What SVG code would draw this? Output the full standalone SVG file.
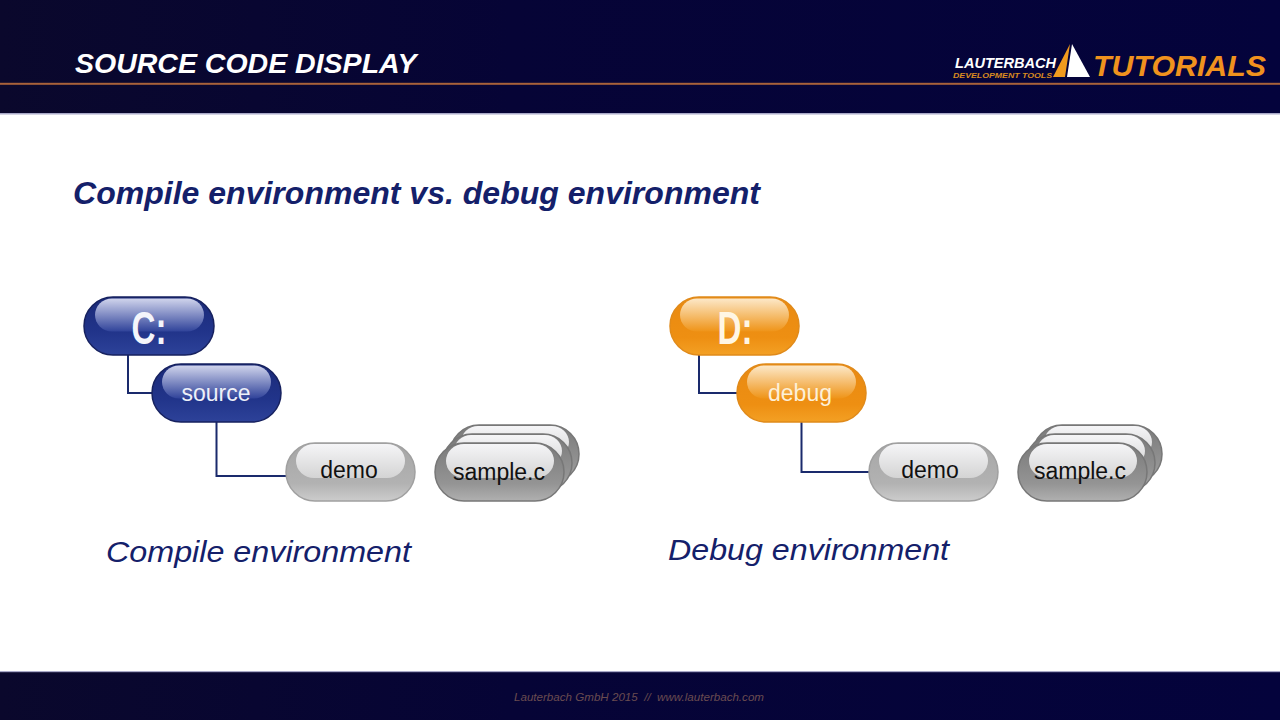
<svg xmlns="http://www.w3.org/2000/svg" width="1280" height="720" viewBox="0 0 1280 720">
<style>
text{font-family:"Liberation Sans",Arial,sans-serif}
.conn{fill:none;stroke:#1a2a6c;stroke-width:2}
.lbl{font-size:23px;text-anchor:middle}
.big{font-size:46px;font-weight:700;text-anchor:middle}
.env{font-size:30px;font-style:italic;fill:#14206a}
.edge{stroke-width:1.5}
</style>
<defs>
<linearGradient id="bar" x1="0" y1="0" x2="1" y2="0"><stop offset="0" stop-color="#0a082c"/><stop offset=".4" stop-color="#060436"/><stop offset="1" stop-color="#04033c"/></linearGradient>
<linearGradient id="blue" x1="0" y1="0" x2="0" y2="1"><stop offset="0" stop-color="#1b2a78"/><stop offset=".6" stop-color="#21348a"/><stop offset="1" stop-color="#2d4299"/></linearGradient>
<linearGradient id="orange" x1="0" y1="0" x2="0" y2="1"><stop offset="0" stop-color="#e98a12"/><stop offset=".7" stop-color="#ee8f12"/><stop offset="1" stop-color="#f3a024"/></linearGradient>
<linearGradient id="silver" x1="0" y1="0" x2="0" y2="1"><stop offset="0" stop-color="#a6a6a6"/><stop offset=".7" stop-color="#b2b2b2"/><stop offset="1" stop-color="#cccccc"/></linearGradient>
<linearGradient id="dark" x1="0" y1="0" x2="0" y2="1"><stop offset="0" stop-color="#7a7a7a"/><stop offset=".7" stop-color="#949494"/><stop offset="1" stop-color="#b0b0b0"/></linearGradient>
<linearGradient id="glB" x1="0" y1="0" x2="0" y2="1"><stop offset="0" stop-color="#d0d4ec"/><stop offset="1" stop-color="#30439a"/></linearGradient>
<linearGradient id="glO" x1="0" y1="0" x2="0" y2="1"><stop offset="0" stop-color="#fce8c8"/><stop offset="1" stop-color="#ef9418"/></linearGradient>
<linearGradient id="glS" x1="0" y1="0" x2="0" y2="1"><stop offset="0" stop-color="#f5f5f7"/><stop offset="1" stop-color="#d4d4d4"/></linearGradient>
</defs>
<rect width="1280" height="720" fill="#fff"/>
<g id="header">
<rect width="1280" height="113" fill="url(#bar)"/>
<rect y="113" width="1280" height="1.500" fill="#a9a9c8"/>
<rect y="82.800" width="1280" height="2" fill="#a8623a"/>
<text x="75" y="73" font-size="28.500" font-weight="700" font-style="italic" fill="#fff">SOURCE CODE DISPLAY</text>
</g>
<g id="logo">
<text x="955" y="68" font-size="15.500" font-weight="700" font-style="italic" fill="#fff" textLength="101" lengthAdjust="spacingAndGlyphs">LAUTERBACH</text>
<text x="953" y="78" font-size="8" font-weight="700" font-style="italic" fill="#d98a20" textLength="99" lengthAdjust="spacingAndGlyphs">DEVELOPMENT TOOLS</text>
<polygon points="1053,77 1070,44 1065,77" fill="#f09a1e"/>
<polygon points="1067,77 1072,44 1090,77" fill="#fff"/>
<text x="1093" y="76" font-size="29" font-weight="700" font-style="italic" fill="#f0921e" textLength="173" lengthAdjust="spacingAndGlyphs">TUTORIALS</text>
</g>
<g id="footer">
<rect y="671" width="1280" height="49" fill="url(#bar)"/>
<rect y="671" width="1280" height="1.200" fill="#a9a9c8"/>
<text x="514" y="701" font-size="11.200" font-style="italic" fill="#6a4c50" xml:space="preserve" textLength="250" lengthAdjust="spacingAndGlyphs">Lauterbach GmbH 2015  //  www.lauterbach.com</text>
</g>
<text id="title" x="73" y="204" font-size="30.500" font-weight="700" font-style="italic" fill="#14206a" textLength="687" lengthAdjust="spacingAndGlyphs">Compile environment vs. debug environment</text>
<g id="connectors">
<path class="conn" d="M128 355V393H152"/>
<path class="conn" d="M216.500 422V476H286"/>
<path class="conn" d="M699 355V393H737"/>
<path class="conn" d="M801.500 422V472H869"/>
</g>
<g id="node-c">
<rect x="84" y="297" width="130" height="58" rx="29" fill="url(#blue)" stroke="#16215f" class="edge"/>
<rect x="95" y="298.500" width="109" height="33" rx="17" fill="url(#glB)"/>
<text x="149" y="344" class="big" fill="#f4f5fb" textLength="35" lengthAdjust="spacingAndGlyphs">C:</text>
</g>
<g id="node-source">
<rect x="152" y="364" width="129" height="58" rx="29" fill="url(#blue)" stroke="#16215f" class="edge"/>
<rect x="162" y="365.500" width="109" height="33" rx="17" fill="url(#glB)"/>
<text x="216" y="401" class="lbl" fill="#eef0f8">source</text>
</g>
<g id="node-demo-left">
<rect x="286" y="443" width="129" height="58" rx="29" fill="url(#silver)" stroke="#a0a0a0" class="edge"/>
<rect x="296" y="444" width="109" height="34" rx="18" fill="url(#glS)"/>
<text x="349" y="478" class="lbl" fill="#111">demo</text>
</g>
<g id="node-sample-left">
<rect x="450" y="425" width="129" height="58" rx="29" fill="url(#dark)" stroke="#777" class="edge"/>
<rect x="461" y="426" width="108" height="32" rx="17" fill="url(#glS)"/>
<rect x="443" y="434" width="129" height="58" rx="29" fill="url(#dark)" stroke="#777" class="edge"/>
<rect x="454" y="435" width="108" height="32" rx="17" fill="url(#glS)"/>
<rect x="435" y="443" width="129" height="58" rx="29" fill="url(#dark)" stroke="#777" class="edge"/>
<rect x="446" y="444" width="108" height="34" rx="18" fill="url(#glS)"/>
<text x="499" y="480" class="lbl" fill="#111">sample.c</text>
</g>
<text id="label-compile" x="106" y="562" class="env" textLength="305" lengthAdjust="spacingAndGlyphs">Compile environment</text>
<g id="node-d">
<rect x="670" y="297" width="129" height="58" rx="29" fill="url(#orange)" stroke="#e08a1a" class="edge"/>
<rect x="680" y="298.500" width="109" height="33" rx="17" fill="url(#glO)"/>
<text x="735" y="344" class="big" fill="#fff6e4" textLength="35" lengthAdjust="spacingAndGlyphs">D:</text>
</g>
<g id="node-debug">
<rect x="737" y="364" width="129" height="58" rx="29" fill="url(#orange)" stroke="#e08a1a" class="edge"/>
<rect x="747" y="365.500" width="109" height="33" rx="17" fill="url(#glO)"/>
<text x="800" y="401" class="lbl" fill="#fdf0d8">debug</text>
</g>
<g id="node-demo-right">
<rect x="869" y="443" width="129" height="58" rx="29" fill="url(#silver)" stroke="#a0a0a0" class="edge"/>
<rect x="879" y="444" width="109" height="34" rx="18" fill="url(#glS)"/>
<text x="930" y="478" class="lbl" fill="#111">demo</text>
</g>
<g id="node-sample-right">
<rect x="1033" y="425" width="129" height="58" rx="29" fill="url(#dark)" stroke="#777" class="edge"/>
<rect x="1044" y="426" width="108" height="32" rx="17" fill="url(#glS)"/>
<rect x="1026" y="434" width="129" height="58" rx="29" fill="url(#dark)" stroke="#777" class="edge"/>
<rect x="1037" y="435" width="108" height="32" rx="17" fill="url(#glS)"/>
<rect x="1018" y="443" width="129" height="58" rx="29" fill="url(#dark)" stroke="#777" class="edge"/>
<rect x="1029" y="444" width="108" height="34" rx="18" fill="url(#glS)"/>
<text x="1080" y="479" class="lbl" fill="#111">sample.c</text>
</g>
<text id="label-debug" x="668" y="560" class="env" textLength="281" lengthAdjust="spacingAndGlyphs">Debug environment</text>
</svg>
